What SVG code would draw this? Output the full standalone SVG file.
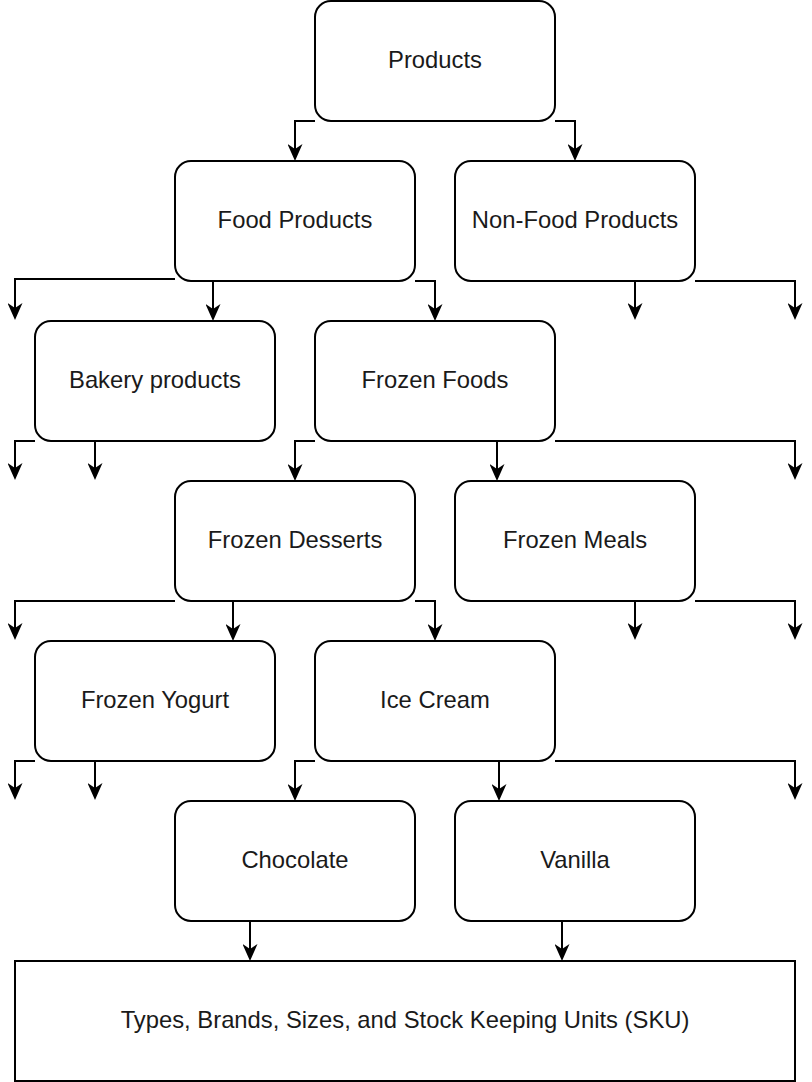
<svg xmlns="http://www.w3.org/2000/svg" width="812" height="1082" viewBox="0 0 812 1082">
<style>
.box{fill:#fff;stroke:#000;stroke-width:2}
.lbl{font-family:"Liberation Sans",Arial,sans-serif;font-size:23.8px;fill:#1a1a1a;text-anchor:middle}
.c path{fill:none;stroke:#000;stroke-width:2;marker-end:url(#arr)}
</style>
<defs>
<marker id="arr" markerUnits="userSpaceOnUse" markerWidth="17" markerHeight="15" refX="5" refY="7.5" orient="auto" viewBox="0 0 17 15">
<path d="M0,0 L17,7.5 L0,15 L5,7.5 z" fill="#000" stroke="none"/>
</marker>
</defs>
<rect width="812" height="1082" fill="#fff"/>
<g class="c" id="connectors">
<path d="M315,121 H295 V149"/>
<path d="M555,121 H575 V149"/>
<path d="M175,279 H15 V308"/>
<path d="M213,281 V309"/>
<path d="M415,281 H435 V309"/>
<path d="M635,281 V308"/>
<path d="M695,281 H795 V308"/>
<path d="M35,441 H15 V468"/>
<path d="M95,441 V468"/>
<path d="M315,441 H295 V469"/>
<path d="M497,441 V469"/>
<path d="M555,441 H795 V468"/>
<path d="M175,601 H15 V628"/>
<path d="M233,601 V629"/>
<path d="M415,601 H435 V629"/>
<path d="M635,601 V628"/>
<path d="M695,601 H795 V628"/>
<path d="M35,761 H15 V788"/>
<path d="M95,761 V788"/>
<path d="M315,761 H295 V789"/>
<path d="M499,761 V789"/>
<path d="M555,761 H795 V788"/>
<path d="M250,921 V949"/>
<path d="M562,921 V949"/>
</g>
<g id="products"><rect class="box" x="315" y="1" width="240" height="120" rx="16"/><text class="lbl" x="435" y="68">Products</text></g>
<g id="food"><rect class="box" x="175" y="161" width="240" height="120" rx="16"/><text class="lbl" x="295" y="228">Food Products</text></g>
<g id="nonfood"><rect class="box" x="455" y="161" width="240" height="120" rx="16"/><text class="lbl" x="575" y="228">Non-Food Products</text></g>
<g id="bakery"><rect class="box" x="35" y="321" width="240" height="120" rx="16"/><text class="lbl" x="155" y="388">Bakery products</text></g>
<g id="frozenfoods"><rect class="box" x="315" y="321" width="240" height="120" rx="16"/><text class="lbl" x="435" y="388">Frozen Foods</text></g>
<g id="desserts"><rect class="box" x="175" y="481" width="240" height="120" rx="16"/><text class="lbl" x="295" y="548">Frozen Desserts</text></g>
<g id="meals"><rect class="box" x="455" y="481" width="240" height="120" rx="16"/><text class="lbl" x="575" y="548">Frozen Meals</text></g>
<g id="yogurt"><rect class="box" x="35" y="641" width="240" height="120" rx="16"/><text class="lbl" x="155" y="708">Frozen Yogurt</text></g>
<g id="icecream"><rect class="box" x="315" y="641" width="240" height="120" rx="16"/><text class="lbl" x="435" y="708">Ice Cream</text></g>
<g id="chocolate"><rect class="box" x="175" y="801" width="240" height="120" rx="16"/><text class="lbl" x="295" y="868">Chocolate</text></g>
<g id="vanilla"><rect class="box" x="455" y="801" width="240" height="120" rx="16"/><text class="lbl" x="575" y="868">Vanilla</text></g>
<g id="sku"><rect class="box" x="15" y="961" width="780" height="120"/><text class="lbl" x="405" y="1028">Types, Brands, Sizes, and Stock Keeping Units (SKU)</text></g>
</svg>
